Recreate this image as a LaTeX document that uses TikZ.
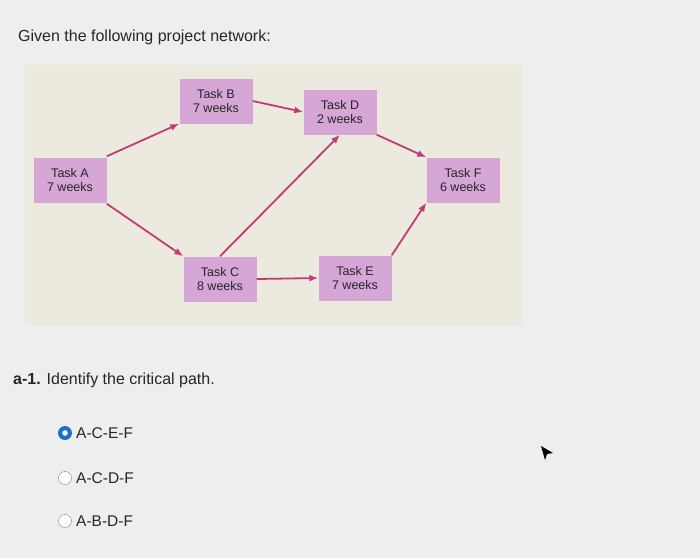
\documentclass[tikz,border=0pt]{standalone}
\usepackage{fontspec}
\setmainfont{Liberation Sans}
\usetikzlibrary{arrows.meta}
\definecolor{pagebg}{HTML}{EEEEEE}
\definecolor{panel}{HTML}{ECEADF}
\definecolor{boxfill}{HTML}{D6A6D6}
\definecolor{arr}{HTML}{C23B78}
\definecolor{radio}{HTML}{1A73C8}
\tikzset{
  task/.style={fill=boxfill, minimum width=73pt, minimum height=45pt, align=center,
    font=\fontsize{12.5}{14}\selectfont, text=black!85, inner sep=1pt},
  link/.style={draw=arr, line width=1.8pt, -{Latex[length=9pt,width=7pt]}},
  txt/.style={anchor=west, font=\fontsize{16}{18}\selectfont, text=black!85, inner sep=0pt}
}
\begin{document}
\begin{tikzpicture}[x=1pt,y=-1pt]
\useasboundingbox (0,0) rectangle (700,558);
\fill[pagebg] (0,0) rectangle (700,558);
\fill[panel] (25,65) rectangle (522,325);
\node[txt] (title) at (18,37) {Given the following project network:};
\node[task] (A) at (70,180) {Task A\\7 weeks};
\node[task] (B) at (216,101) {Task B\\7 weeks};
\node[task] (D) at (340,112) {Task D\\2 weeks};
\node[task] (F) at (463,180) {Task F\\6 weeks};
\node[task] (C) at (220,279) {Task C\\8 weeks};
\node[task] (E) at (355,278) {Task E\\7 weeks};
\draw[link] (A.north east) ++(0,-1) -- (B.south west);
\draw[link] (A.south east) ++(0,1) -- (C.north west);
\draw[link] (B.east) -- (D.west);
\draw[link] (C.east) -- (E.west);
\draw[link] (C.north) -- (D.south);
\draw[link] (D.south east) -- (F.north west);
\draw[link] (E.north east) -- (F.south west);
\node[txt] (q) at (13,380) {\textbf{a-1.} Identify the critical path.};
\fill[radio] (65,433) circle (7pt);
\fill[white] (65,433) circle (2.8pt);
\node[txt, font=\fontsize{15.5}{18}\selectfont] (o1) at (76,433) {A-C-E-F};
\draw[black!50, fill=white] (65,478) circle (6.5pt);
\node[txt, font=\fontsize{15.5}{18}\selectfont] (o2) at (76,478) {A-C-D-F};
\draw[black!50, fill=white] (65,521) circle (6.5pt);
\node[txt, font=\fontsize{15.5}{18}\selectfont] (o3) at (76,521) {A-B-D-F};
\fill[black] (541,446) -- (553,453) -- (547,454) -- (545,460) -- cycle;
\end{tikzpicture}
\end{document}
